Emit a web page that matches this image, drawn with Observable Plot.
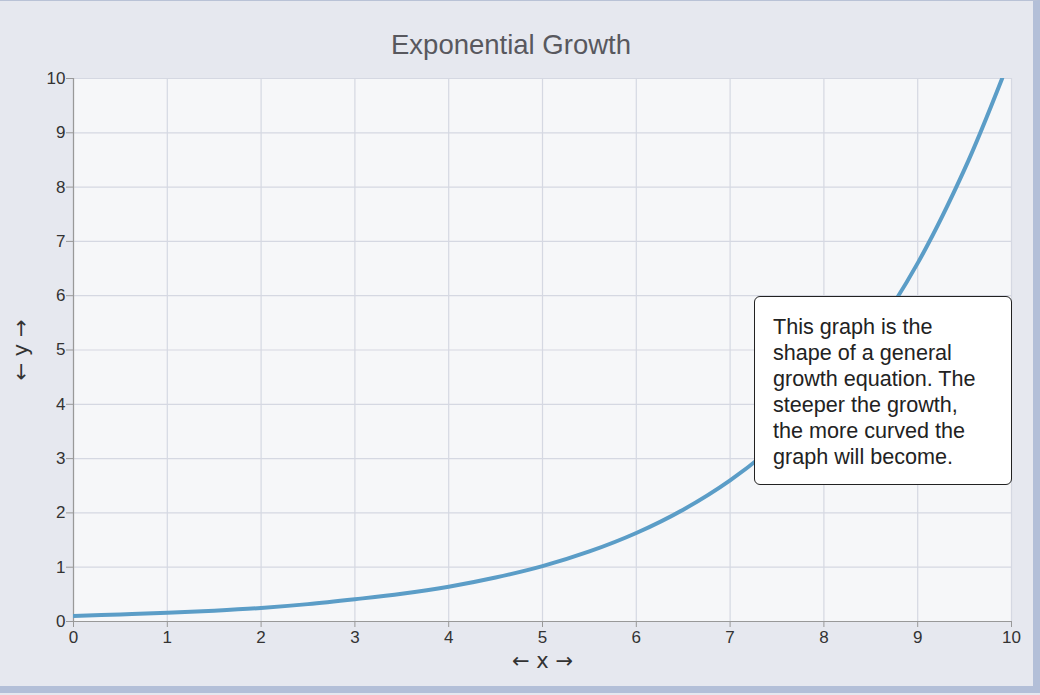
<!DOCTYPE html>
<html>
<head>
<meta charset="utf-8">
<script src="https://cdn.jsdelivr.net/npm/d3@7"></script>
<script src="https://cdn.jsdelivr.net/npm/@observablehq/plot@0.6"></script>
<style>
  html, body { margin: 0; padding: 0; background: #e6e8ef; }
  #frame { position: relative; width: 1033px; height: 685px; background: #e6e8ef;
    border-top: 1px solid #b9c2d6; border-right: 7px solid #b3bfd8; border-bottom: 7px solid #b3bfd8;
    font-family: "Liberation Sans", Arial, Helvetica, sans-serif; overflow: hidden; }
  #title { position: absolute; left: 0; top: 28px; width: 1022px; text-align: center;
    font-size: 27.5px; color: #58585e; }
  #chart { position: absolute; left: 0; top: 59px; }
  #note { position: absolute; left: 754px; top: 295px; width: 220px; height: 155px;
    background: #fff; border: 1.5px solid #222; border-radius: 6px;
    padding: 17px 18px 15px 18px; font-size: 21.6px; line-height: 26px; color: #222; white-space: nowrap; }
</style>
</head>
<body>
<div id="frame">
  <div id="title">Exponential Growth</div>
  <div id="chart"></div>
  <div id="note">This graph is the<br>shape of a general<br>growth equation. The<br>steeper the growth,<br>the more curved the<br>graph will become.</div>
</div>
<script>
const xs = [0, 0.5, 1, 1.5, 2, 2.5, 3, 3.5, 4, 4.5, 5, 5.5, 6, 6.5, 7, 7.5, 8, 8.5, 9, 9.5, 9.9];
const ys = [0.10, 0.13, 0.16, 0.20, 0.25, 0.32, 0.41, 0.51, 0.64, 0.81, 1.02, 1.29, 1.63, 2.06, 2.60, 3.28, 4.14, 5.23, 6.60, 8.33, 10.0];
const xTicks = [0,1,2,3,4,5,6,7,8,9,10];
const yTicks = [0,1,2,3,4,5,6,7,8,9,10];
const data = xs.map((x, i) => ({x, y: ys[i]}));

const chart = Plot.plot({
  width: 1030,
  height: 626,
  marginTop: 18,
  marginBottom: 65,
  marginLeft: 73,
  marginRight: 19,
  style: { background: "transparent", fontSize: "17px", fontFamily: "Liberation Sans, Arial, sans-serif", color: "#333" },
  x: { domain: [0, 10], ticks: xTicks, label: null },
  y: { domain: [0, 10], ticks: yTicks, label: null },
  marks: [
    Plot.frame({ fill: "#f6f7f9", stroke: null }),
    Plot.gridX(xTicks, { stroke: "#d5d8e2", strokeOpacity: 1, strokeWidth: 1.2 }),
    Plot.gridY(yTicks, { stroke: "#d5d8e2", strokeOpacity: 1, strokeWidth: 1.2 }),
    Plot.axisX(xTicks, { tickSize: 6, tickPadding: 3, stroke: "#999", fill: "#333", fontSize: 17, tickFormat: "d" }),
    Plot.axisY(yTicks, { tickSize: 7, tickPadding: 1, stroke: "#999", fill: "#333", fontSize: 17, tickFormat: "d" }),
    Plot.ruleY([0], { stroke: "#999", strokeWidth: 1.2 }),
    Plot.ruleX([0], { stroke: "#999", strokeWidth: 1.2 }),
    Plot.line(data, { x: "x", y: "y", stroke: "#5b9dc7", strokeWidth: 4, curve: "catmull-rom", clip: true }),
    Plot.text(["← x →"], { frameAnchor: "bottom", textAnchor: "middle", lineAnchor: "middle", dy: 40, fontSize: 21, fill: "#333", fontFamily: "DejaVu Sans" }),
    Plot.text(["← y →"], { frameAnchor: "left", textAnchor: "middle", lineAnchor: "middle", dx: -52, rotate: -90, fontSize: 21, fill: "#333", fontFamily: "DejaVu Sans" })
  ]
});
document.getElementById("chart").appendChild(chart);
</script>
</body>
</html>
